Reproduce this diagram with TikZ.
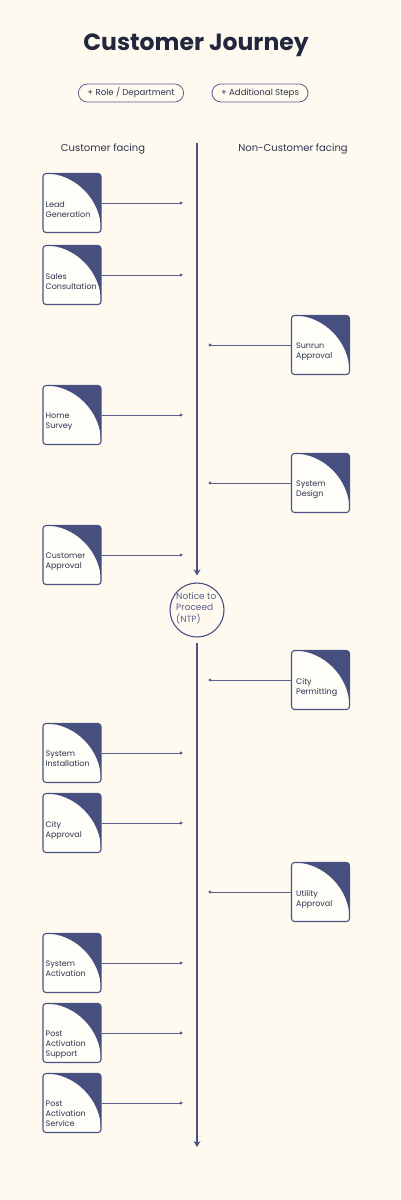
\documentclass[tikz,border=0pt]{standalone}
\usepackage{fontspec}
\setmainfont{Poppins}
\usetikzlibrary{arrows.meta}
\definecolor{bg}{HTML}{FEFAEF}
\definecolor{navy}{HTML}{474F7F}
\definecolor{linec}{HTML}{4B5283}
\definecolor{connc}{HTML}{5A608E}
\definecolor{titlec}{HTML}{22273F}
\definecolor{txt}{HTML}{2E3350}
\definecolor{boxbg}{HTML}{FFFDF7}
\tikzset{
  stepbox/.style={draw=linec, line width=1.1pt, rounded corners=3pt, fill=boxbg,
    minimum width=58pt, minimum height=59pt, inner sep=0pt,
    path picture={\fill[navy] (path picture bounding box.north west) -- (path picture bounding box.north east) -- (path picture bounding box.south east) .. controls ([yshift=33pt]path picture bounding box.south east) and ([xshift=32pt]path picture bounding box.north west) .. (path picture bounding box.north west) -- cycle;}},
  steplabel/.style={anchor=north west, inner sep=0pt, align=left, font=\fontsize{8}{10}\selectfont, text=txt},
  conn/.style={draw=connc, line width=1pt},
  pill/.style={draw=connc, line width=0.8pt, rounded corners=9pt, minimum height=18pt, inner xsep=9pt, font=\fontsize{8.6}{10}\selectfont, text=txt},
  header/.style={font=\fontsize{10}{12}\selectfont, text=txt},
  mainline/.style={draw=linec, line width=1.8pt}
}
\newcommand\leftstep[3]{%
  \node[stepbox] (#1) at (72,#2) {};
  \node[steplabel] (#1t) at ([xshift=3pt,yshift=-28pt]#1.north west) {#3};
  \coordinate (#1e) at (181,#2);
  \draw[conn] (#1.east) -- (#1e);
  \fill[connc] (#1e) circle (1.6);
}
\newcommand\rightstep[3]{%
  \node[stepbox] (#1) at (320.5,#2) {};
  \node[steplabel] (#1t) at ([xshift=5pt,yshift=-28pt]#1.north west) {#3};
  \coordinate (#1e) at (210,#2);
  \draw[conn] (#1.west) -- (#1e);
  \fill[connc] (#1e) circle (1.6);
}
\begin{document}
\begin{tikzpicture}[x=1pt,y=-1pt]
\fill[bg] (0,0) rectangle (400,1200);
\useasboundingbox (0,0) rectangle (400,1200);
\node[font=\fontsize{23.5}{28}\selectfont\bfseries, text=titlec] (title) at (196,45) {Customer Journey};
\node[pill] (role) at (131,93) {+\ Role / Department};
\node[pill] (addl) at (260,93) {+\ Additional Steps};
\node[header] (cf) at (103,149) {Customer facing};
\node[header] (ncf) at (293,149) {Non-Customer facing};
\coordinate (top) at (197,143);
\coordinate (bottom) at (197,1147);
\node[circle, draw=linec, line width=1.1pt, fill=bg, minimum size=54pt, inner sep=0pt] (ntp) at (197,610) {};
\node[anchor=north west, inner sep=0pt, align=left, font=\fontsize{9}{11.5}\selectfont, text=connc] (ntpt) at (176,592) {Notice to\\Proceed\\(NTP)};
\draw[mainline, -{Stealth[length=6pt,width=7pt]}, shorten >=7pt] (top) -- (ntp.north);
\draw[mainline, -{Stealth[length=6pt,width=7pt]}, shorten <=5pt] (ntp.south) -- (bottom);
\leftstep{lead}{203}{Lead\\Generation}
\leftstep{sales}{275}{Sales\\Consultation}
\rightstep{sunrun}{345}{Sunrun\\Approval}
\leftstep{home}{415}{Home\\Survey}
\rightstep{design}{483}{System\\Design}
\leftstep{custapp}{555}{Customer\\Approval}
\rightstep{permit}{680}{City\\Permitting}
\leftstep{install}{753}{System\\Installation}
\leftstep{cityapp}{823}{City\\Approval}
\rightstep{utility}{892}{Utility\\Approval}
\leftstep{activ}{963}{System\\Activation}
\leftstep{support}{1033}{Post\\Activation\\Support}
\leftstep{service}{1103}{Post\\Activation\\Service}
\end{tikzpicture}
\end{document}
